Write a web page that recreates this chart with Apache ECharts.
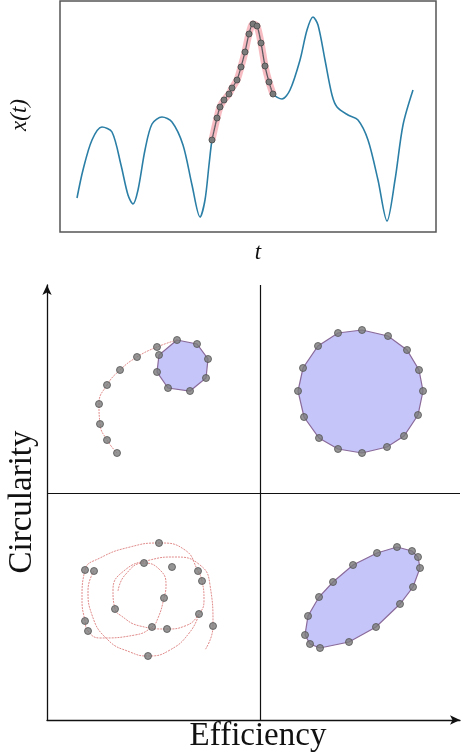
<!DOCTYPE html>
<html>
<head>
<meta charset="utf-8">
<script src="https://cdn.jsdelivr.net/npm/echarts@6/dist/echarts.min.js"></script>
<style>html,body{margin:0;padding:0;background:#fff}#main{width:474px;height:753px}</style>
</head>
<body>
<div id="main"></div>
<script>
var signal = [[77,198],[83,170],[92,140],[102,127],[112,132],[121,165],[128,195],[133,204],[138,190],[145,150],[152,124],[162,117],[172,122],[183,145],[192,185],[200,217],[205,200],[209,165],[212,140],[217,118],[220,107],[224,100],[229,94],[232,88],[237,80],[241,67],[245,52],[249,34],[253,24],[257,26],[261,43],[265,66],[269,82],[273,94],[282,99],[290,90],[300,60],[307,30],[313,17],[318,25],[325,60],[332,95],[337,107],[348,115],[358,120],[368,140],[378,180],[387,221],[395,180],[403,125],[413,90]];
var window1 = [[212,140],[217,118],[220,107],[224,100],[229,94],[232,88],[237,80],[241,67],[245,52],[249,34],[253,24],[257,26],[261,43],[265,66],[269,82],[273,94]];

var smallLoop = [[177,340],[197,344],[208,359],[206,378],[190,391],[168,388],[157,372],[159,355]];
var spiralTail = [[177,340],[157,347],[137,357],[120,370],[107,385],[99,404],[100,424],[107,440],[117,453]];
var bigLoop = [[362,330],[388,336],[407,350],[419,370],[423,391],[418,415],[404,436],[387,447],[362,453],[338,449],[319,438],[304,417],[298,391],[303,368],[318,346],[338,333]];
var ellipse = [[397,547],[412,551],[418,557],[420,568],[413,587],[400,604],[376,627],[349,642],[320,648],[310,644],[305,635],[308,616],[319,597],[333,582],[353,565],[377,553]];
var scribble = [[118,591],[125,575],[144,563],[160,570],[166,585],[164,598],[158,618],[152,627],[135,635],[100,638],[88,631],[85,621],[82,600],[85,570],[100,558],[130,547],[159,543],[185,550],[198,571],[202,581],[204,600],[199,614],[185,626],[167,629],[140,626],[120,615],[115,609],[113,590],[125,570],[150,560],[175,557],[200,565],[210,585],[213,626],[205,650]];
var scribble2 = [[94,571],[88,590],[92,615],[108,640],[130,652],[148,656],[170,650],[190,632],[199,614]];
var scribbleDots = [[159,543],[85,570],[94,571],[144,563],[172,567],[198,571],[202,581],[164,598],[115,609],[85,621],[88,631],[152,627],[167,629],[199,614],[213,626],[148,656]];

var chart = echarts.init(document.getElementById('main'));
var dotStyle = {color: '#7a7a7a', borderColor: '#555', borderWidth: 1};
var serif = 'Liberation Serif';

function polygon(pts) {
    return {
        type: 'custom', xAxisIndex: 1, yAxisIndex: 1, data: [0], silent: true,
        renderItem: function (params, api) {
            return {
                type: 'polygon',
                shape: {points: pts.map(function (p) { return api.coord(p); })},
                style: {fill: '#c5c5f9', stroke: '#8a6a9a', lineWidth: 1.2}
            };
        }
    };
}
function dots(pts) {
    return {type: 'scatter', xAxisIndex: 1, yAxisIndex: 1, data: pts, symbolSize: 7, itemStyle: dotStyle, z: 5};
}
function dashed(pts) {
    return {type: 'line', xAxisIndex: 1, yAxisIndex: 1, data: pts, smooth: 0.5, showSymbol: false,
        lineStyle: {color: '#e08a8a', width: 1, type: [2, 1]}};
}

var option = {
    animation: false,
    grid: [
        {left: 60, top: 1, width: 376, height: 231, show: true, borderColor: '#555', borderWidth: 1.5},
        {left: 47, top: 285, width: 413, height: 435}
    ],
    xAxis: [
        {gridIndex: 0, type: 'value', min: 60, max: 436, show: false},
        {gridIndex: 1, type: 'value', min: 47, max: 460, axisLabel: {show: false}, axisTick: {show: false}, splitLine: {show: false},
            axisLine: {lineStyle: {color: '#111', width: 1.3}, symbol: ['none', 'arrow'], symbolSize: [7, 10]}}
    ],
    yAxis: [
        {gridIndex: 0, type: 'value', min: 1, max: 232, inverse: true, show: false},
        {gridIndex: 1, type: 'value', min: 285, max: 720, inverse: true, axisLabel: {show: false}, axisTick: {show: false}, splitLine: {show: false},
            axisLine: {lineStyle: {color: '#111', width: 1.3}, symbol: ['none', 'arrow'], symbolSize: [7, 10]}}
    ],
    series: [
        {type: 'line', data: signal, smooth: 0.3, showSymbol: false, lineStyle: {color: '#2b7fa6', width: 1.6}},
        {type: 'line', data: window1, smooth: 0.3, showSymbol: false, lineStyle: {color: '#f2a0a8', width: 7, opacity: 0.7}, z: 3},
        {type: 'line', data: window1, smooth: 0.3, symbol: 'circle', symbolSize: 6, showSymbol: true,
            lineStyle: {color: '#555', width: 1}, itemStyle: dotStyle, z: 4},
        {type: 'line', xAxisIndex: 1, yAxisIndex: 1, data: [], markLine: {silent: true, symbol: 'none', label: {show: false},
            lineStyle: {color: '#111', width: 1.2, type: 'solid'}, data: [{xAxis: 260}, {yAxis: 493}]}},
        polygon(smallLoop), polygon(bigLoop), polygon(ellipse),
        dashed(spiralTail), dashed(scribble), dashed(scribble2),
        dots(smallLoop), dots(spiralTail.slice(1)), dots(bigLoop), dots(ellipse), dots(scribbleDots)
    ],
    graphic: [
        {type: 'text', x: 20, y: 115, rotation: Math.PI / 2, style: {text: 'x(t)', font: 'italic 23px ' + serif, fill: '#111', align: 'center', verticalAlign: 'middle'}},
        {type: 'text', x: 258, y: 253, style: {text: 't', font: 'italic 23px ' + serif, fill: '#111', align: 'center', verticalAlign: 'middle'}},
        {type: 'text', x: 22, y: 502, rotation: Math.PI / 2, style: {text: 'Circularity', font: '33px ' + serif, fill: '#111', align: 'center', verticalAlign: 'middle'}},
        {type: 'text', x: 258, y: 736, style: {text: 'Efficiency', font: '33px ' + serif, fill: '#111', align: 'center', verticalAlign: 'middle'}}
    ]
};
chart.setOption(option);
</script>
</body>
</html>
